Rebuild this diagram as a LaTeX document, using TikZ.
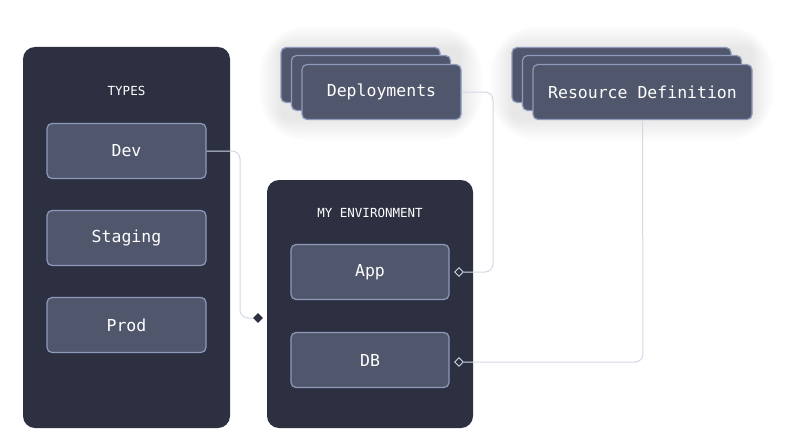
\documentclass[tikz,border=0pt]{standalone}
\usepackage{fontspec}
\setmonofont{DejaVu Sans Mono}
\usetikzlibrary{positioning,shapes.geometric}
\definecolor{panelc}{HTML}{2C3040}
\definecolor{boxc}{HTML}{50566B}
\definecolor{edgec}{HTML}{8E9ABC}
\definecolor{linkc}{HTML}{D3D8E5}
\tikzset{
	panel/.style = {rectangle, fill=panelc, rounded corners=12pt, draw=none},
	item/.style = {rectangle, fill=boxc, draw=edgec, line width=1.2pt, rounded corners=5pt, text=white, font=\ttfamily\fontsize{16.5}{19}\selectfont, minimum height=55pt, inner sep=0pt},
	title/.style = {text=white, font=\ttfamily\fontsize{12.5}{15}\selectfont},
	link/.style = {draw=linkc, line width=1pt, rounded corners=8pt},
	tip/.style = {diamond, draw=linkc, fill=panelc, line width=0.9pt, minimum size=9pt, inner sep=0pt}
}
\begin{document}
\begin{tikzpicture}[x=1pt, y=-1pt]
\useasboundingbox[fill=white] (0,0) rectangle (800,436);

% soft shadows behind the stacks
\foreach \s in {2,4,...,24}
	\fill [black, opacity=0.009, rounded corners=2*\s pt] (283-\s,50-\s) rectangle (459+\s,117+\s) (514-\s,50-\s) rectangle (750+\s,117+\s);

% types panel
\node(typ) [panel, minimum width=207pt, minimum height=381pt] at (126.5,237.5) {};
\node(typt) [title] at (126.5,91) {TYPES};
\node(dev) [item, minimum width=159pt] at (126.5,151) {Dev};
\node(stg) [item, minimum width=159pt] at (126.5,238) {Staging};
\node(prd) [item, minimum width=159pt] at (126.5,325) {Prod};

% environment panel
\node(env) [panel, minimum width=206pt, minimum height=248pt] at (370,304) {};
\node(envt) [title] at (370,213) {MY ENVIRONMENT};
\node(app) [item, minimum width=158pt] at (370,272) {App};
\node(db) [item, minimum width=158pt] at (370,360) {DB};

% stacked cards
\node(dep2) [item, minimum width=159pt] at (360.5,75) {};
\node(dep1) [item, minimum width=159pt] at (371,83) {};
\node(dep) [item, minimum width=159pt] at (381.5,92) {Deployments};
\node(res2) [item, minimum width=219pt] at (621.5,75) {};
\node(res1) [item, minimum width=219pt] at (632,83) {};
\node(res) [item, minimum width=219pt] at (642.5,92) {Resource Definition};

% connectors
\node(tdev) [tip, draw=panelc] at (258,318) {};
\node(tapp) [tip] at (459,272) {};
\node(tdb) [tip] at (459,362) {};
\draw [link] (dev.east) -- (240,151) -- (240,318) -- (tdev.west);
\draw [link] (dep.east) -- (493,92) -- (493,272) -- (tapp.east);
\draw [link] (res.south) -- (643,362) -- (tdb.east);
\end{tikzpicture}
\end{document}
